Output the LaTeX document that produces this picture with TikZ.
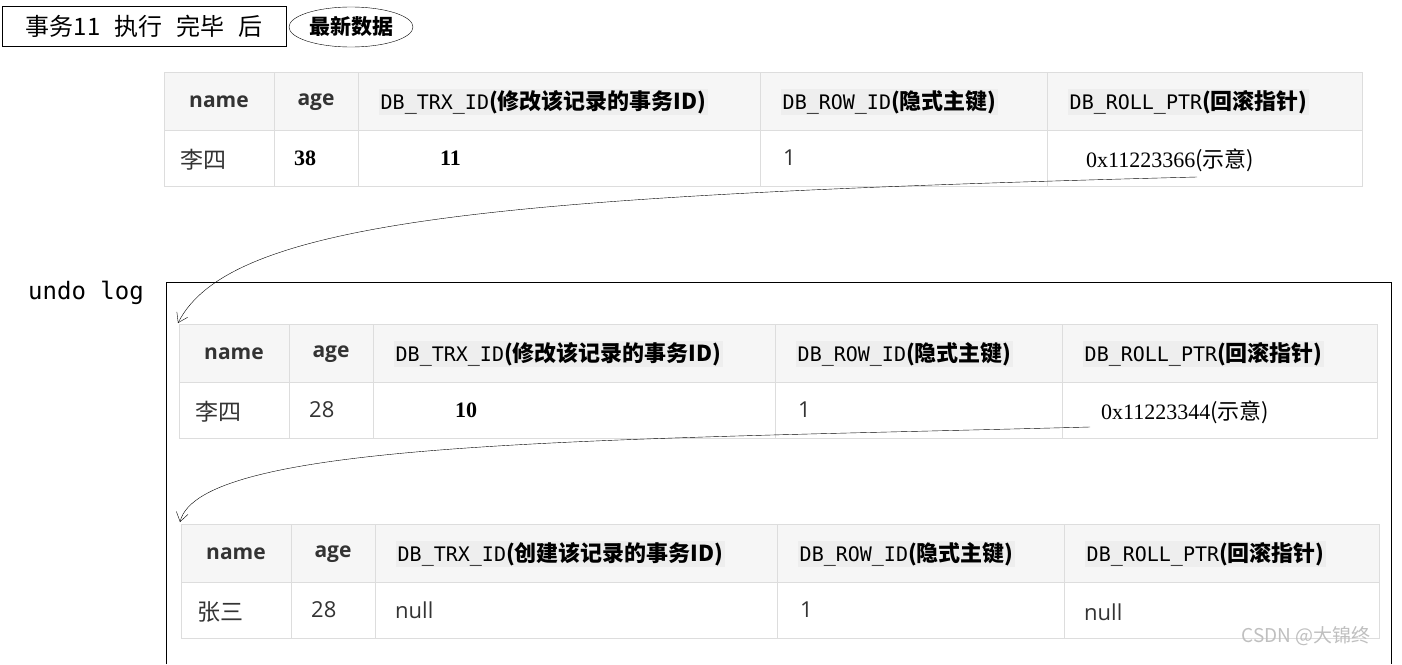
\documentclass[tikz,border=0pt]{standalone}
\usepackage{fontspec}
\setmainfont{Liberation Serif}
\setsansfont{Open Sans}
\setmonofont{DejaVu Sans Mono}
\newfontfamily\cjk{Noto Sans CJK SC}
\usetikzlibrary{shapes.geometric,arrows.meta}
\definecolor{hdr}{HTML}{F6F6F6}
\definecolor{grid}{HTML}{DDDDDD}
\definecolor{codebg}{HTML}{EEEEEE}
\definecolor{txt}{HTML}{333333}
\newcommand{\cd}[2]{{\fboxsep=1.5pt\colorbox{codebg}{\strut\ttfamily\fontsize{20}{22}\selectfont #1{\cjk\bfseries\fontsize{22}{24}\selectfont #2}}}}
\tikzset{val/.style={anchor=west,inner sep=0,font=\fontsize{22}{24}\selectfont}}
\newcommand{\mytable}[8]{%
\begin{scope}[shift={(#1,#2)}]
\fill[hdr] (0,0) rectangle (1198,58);
\draw[grid] (0,0) rectangle (1198,114) (0,58)--(1198,58) (110,0)--(110,114) (194,0)--(194,114) (596,0)--(596,114) (883,0)--(883,114);
\node[font=\sffamily\bfseries\fontsize{21}{24}\selectfont,text=txt] (#8n) at (55,30) {name};
\node[font=\sffamily\bfseries\fontsize{21}{24}\selectfont,text=txt] (#8a) at (152,30) {age};
\node[anchor=west,inner sep=0] (#8t) at (215,30) {\cd{DB\_TRX\_ID}{#4}};
\node[anchor=west,inner sep=0] (#8r) at (617,30) {\cd{DB\_ROW\_ID}{(隐式主键)}};
\node[anchor=west,inner sep=0] (#8p) at (904,30) {\cd{DB\_ROLL\_PTR}{(回滚指针)}};
\node[val,font=\cjk\fontsize{23}{25}\selectfont,text=txt] (#8v1) at (16,88) {#7};
\node[val] (#8v2) at (130,86) {#3};
\node[val] (#8v3) at (214,86) {#5};
\node[val,font=\sffamily\fontsize{22}{24}\selectfont,text=txt] (#8v4) at (619,86) {1};
\node[val] (#8v5) at (903,88) {#6};
\end{scope}}
\begin{document}
\begin{tikzpicture}[x=1pt,y=-1pt]
\useasboundingbox (0,0) rectangle (1402,664);
\node[draw,anchor=west,minimum width=284,minimum height=40,font=\cjk\fontsize{24}{26}\selectfont,inner sep=2] (lbl) at (2,26) {事务11\hspace{14pt}执行\hspace{14pt}完毕\hspace{14pt}后};
\node[draw,ellipse,minimum width=124,minimum height=40,inner sep=0,font=\cjk\bfseries\fontsize{21}{23}\selectfont] (new) at (351,27) {最新数据};
\mytable{164}{72}{\bfseries 38}{(修改该记录的事务ID)}{\hspace*{62pt}\bfseries 11}{\hspace*{19pt}0x11223366{\cjk(示意)}}{李四}{A}
\node[font=\ttfamily\fontsize{24}{26}\selectfont,anchor=west,inner sep=0] (undo) at (28,293) {undo log};
\draw (166,664) -- (166,282) -- (1391,282) -- (1391,664);
\mytable{179}{324}{\sffamily\color{txt}28}{(修改该记录的事务ID)}{\hspace*{62pt}\bfseries 10}{\hspace*{19pt}0x11223344{\cjk(示意)}}{李四}{B}
\mytable{181}{524}{\sffamily\color{txt}28}{(创建该记录的事务ID)}{\sffamily\color{txt}null}{\sffamily\color{txt}null}{张三}{C}
\coordinate (s1) at (1197,177);
\coordinate (e1) at (178,323);
\draw[-{Straight Barb[length=9pt,width=12pt]}] (s1) .. controls (500,195) and (230,220) .. (e1);
\coordinate (s2) at (1090,427);
\coordinate (e2) at (180,522);
\draw[-{Straight Barb[length=9pt,width=12pt]}] (s2) .. controls (600,440) and (200,440) .. (e2);
\node[font=\cjk\fontsize{19}{21}\selectfont,text=black!25] (wm) at (1306,636) {CSDN @大锦终};
\end{tikzpicture}
\end{document}
